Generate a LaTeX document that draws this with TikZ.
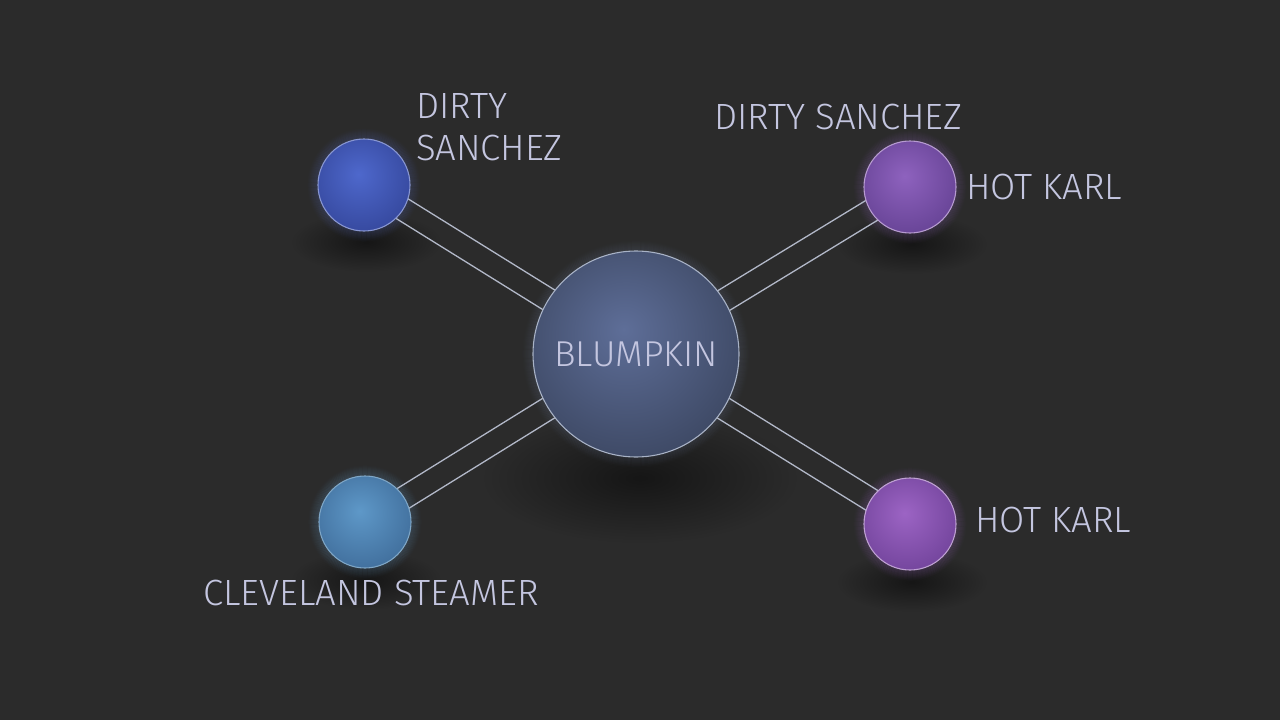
\documentclass[tikz,border=0pt]{standalone}
\usepackage{fontspec}
\IfFontExistsTF{Fira Sans Light}{\setmainfont{Fira Sans Light}}{\setmainfont{Fira Sans}}
\usetikzlibrary{calc}
\definecolor{bg}{HTML}{2B2B2B}
\definecolor{txt}{HTML}{C4C6E0}
\definecolor{link}{HTML}{B2B8C8}
\definecolor{cIn}{HTML}{5E6E98}\definecolor{cOut}{HTML}{283042}\definecolor{cRim}{HTML}{A8B2C6}\definecolor{cGlow}{HTML}{6A7898}
\definecolor{tlIn}{HTML}{4E68CC}\definecolor{tlOut}{HTML}{263480}\definecolor{tlRim}{HTML}{8896D2}\definecolor{tlGlow}{HTML}{5A70D0}
\definecolor{trIn}{HTML}{8E62BE}\definecolor{trOut}{HTML}{4E307C}\definecolor{trRim}{HTML}{B69AD0}\definecolor{trGlow}{HTML}{9A6ACC}
\definecolor{blIn}{HTML}{5E98C8}\definecolor{blOut}{HTML}{2E5480}\definecolor{blRim}{HTML}{7EA6C6}\definecolor{blGlow}{HTML}{6AA6D6}
\definecolor{brIn}{HTML}{9C64C4}\definecolor{brOut}{HTML}{583082}\definecolor{brRim}{HTML}{BEA0D2}\definecolor{brGlow}{HTML}{A86CD4}
\colorlet{sA}{white}\colorlet{sB}{black}
\pgfdeclareradialshading[sA,sB]{sph}{\pgfpoint{-3bp}{6bp}}{color(0bp)=(sA); color(50bp)=(sB); color(75bp)=(sB)}
\pgfdeclarelayer{bgl}\pgfdeclarelayer{back}
\pgfsetlayers{bgl,back,main}
\tikzset{
  sphere/.style={circle, shade, shading=sph, /utils/exec={\colorlet{sA}{#1In}\colorlet{sB}{#1Out}}, draw=#1Rim, line width=1.1pt, inner sep=0pt},
  sat/.style={minimum size=92pt},
  lbl/.style={text=txt, inner sep=0pt, font=\fontsize{36.5}{42}\selectfont},
  linkline/.style={draw=link, line width=1.3pt},
  shadowc/.style={inner color=black!50!bg, outer color=bg}
}
\newcommand\glowring[3]{% node, radius, colour
  \foreach \k in {1,...,10}{
    \draw[#3, line width=1.2pt, opacity={0.16*(1-\k/11)}] (#1.center) circle ({#2+\k});
  }
}
\begin{document}
\begin{tikzpicture}[x=1pt,y=-1pt]
\useasboundingbox (0,0) rectangle (1280,720);
% spheres
\node[sphere=c, minimum size=206pt, text=txt, font=\fontsize{36}{42}\selectfont] (c) at (636,354) {BLUMPKIN};
\node[sat, sphere=tl] (tl) at (364,185) {};
\node[sat, sphere=tr] (tr) at (910,187) {};
\node[sat, sphere=bl] (bl) at (365,522) {};
\node[sat, sphere=br] (br) at (910,524) {};
% links
\begin{pgfonlayer}{back}
\foreach \s in {tl,tr,bl,br}{
  \draw[linkline] ($(c.center)!11.5pt!90:(\s.center)$) -- ($(\s.center)!11.5pt!-90:(c.center)$);
  \draw[linkline] ($(c.center)!11.5pt!-90:(\s.center)$) -- ($(\s.center)!11.5pt!90:(c.center)$);
}
\end{pgfonlayer}
% background, shadows and glows
\begin{pgfonlayer}{bgl}
\fill[bg] (0,0) rectangle (1280,720);
\shade[shadowc] (640,478) ellipse (160 and 66);
\shade[shadowc] (366,242) ellipse (76 and 30);
\shade[shadowc] (912,244) ellipse (76 and 30);
\shade[shadowc] (366,580) ellipse (76 and 30);
\shade[shadowc] (912,582) ellipse (76 and 30);
\glowring{c}{103}{cGlow}
\glowring{tl}{46}{tlGlow}
\glowring{tr}{46}{trGlow}
\glowring{bl}{46}{blGlow}
\glowring{br}{46}{brGlow}
\end{pgfonlayer}
% labels
\node[lbl, anchor=base west, align=left] (ltl) at (416,160) {DIRTY\\SANCHEZ};
\node[lbl, anchor=base] (ltr1) at (838,129) {DIRTY SANCHEZ};
\node[lbl, anchor=base west] (ltr2) at (966,199) {HOT KARL};
\node[lbl, anchor=base] (lbl) at (371,605) {CLEVELAND STEAMER};
\node[lbl, anchor=base west] (lbr) at (975,532) {HOT KARL};
\end{tikzpicture}
\end{document}
